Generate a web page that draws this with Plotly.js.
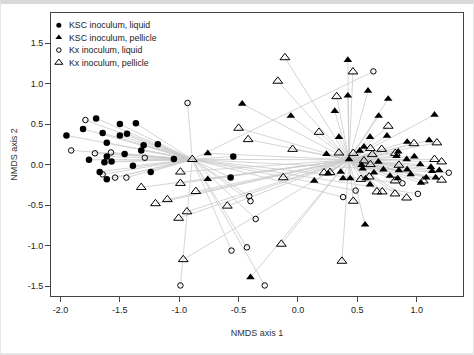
<!DOCTYPE html>
<html><head><meta charset="utf-8">
<script src="https://cdn.plot.ly/plotly-3.0.1.min.js"></script>
<style>
html,body{margin:0;padding:0;background:#fff}
#frame{position:absolute;left:0;top:0;width:474px;height:355px;box-sizing:border-box;border-top:4px solid #d9d9d9;border-bottom:2px solid #e6e6e6;border-left:1px solid #e6e6e6;border-right:1px solid #e6e6e6;pointer-events:none}
</style>
</head><body>
<div id="chart" style="position:absolute;left:0;top:0;width:474px;height:355px"></div>
<div id="frame"></div>
<script>
// ---- data ----
const seriesNames = ["KSC inoculum, liquid", "KSC inoculum, pellicle", "Kx inoculum, liquid", "Kx inoculum, pellicle"];

const kscLiquidX = [-1.70,-1.50,-1.365,-1.81,-1.95,-1.645,-1.50,-1.44,-1.61,-1.30,-1.18,-1.32,-1.76,-1.61,-1.46,-1.57,-1.63,-1.045,-1.39,-1.24,-1.67,-1.61,-0.545,-0.567];
const kscLiquidY = [0.57,0.50,0.51,0.44,0.36,0.39,0.36,0.38,0.27,0.24,0.25,0.175,0.06,0.10,0.13,0.04,0.03,0.07,-0.015,-0.09,-0.09,-0.18,0.10,-0.16];

const kscPellicleX = [-0.47,-0.06,-0.76,0.24,-0.76,0.137,0.255,-0.40,0.42,0.42,0.59,0.76,0.31,0.68,1.15,0.345,0.607,0.75,0.92,1.105,0.43,0.52,0.556,0.536,0.545,0.677,0.845,0.83,0.916,0.98,1.03,1.12,1.13,1.19,1.16,0.92,0.95,0.85,0.775,0.72,0.64,0.57,0.44,0.38,0.36,0.607,1.08,1.036,0.84,0.565];
const kscPellicleY = [0.75,0.60,0.14,0.13,-0.18,-0.20,-0.11,-1.39,1.29,0.85,0.91,0.81,0.66,0.60,0.615,0.34,0.34,0.355,0.28,0.30,0.065,0.17,0.22,-0.006,-0.05,0.035,0.16,0.105,0.065,0.10,0.002,-0.03,-0.08,-0.07,-0.16,-0.06,-0.12,-0.07,-0.14,-0.06,-0.10,-0.17,-0.17,-0.17,-0.09,-0.245,-0.16,-0.225,-0.17,-0.74];

const kxLiquidX = [-1.79,-0.93,-1.91,-1.71,-1.575,-1.29,-1.645,-1.54,-1.445,-0.41,-0.40,-0.356,-0.56,-0.43,-0.28,-0.99,0.635,1.27,0.88,1.01,0.486,0.38];
const kxLiquidY = [0.55,0.76,0.175,0.14,0.15,0.085,-0.12,-0.16,-0.16,-0.39,-0.45,-0.67,-1.06,-1.02,-1.49,-1.49,1.15,-0.10,-0.23,-0.36,-0.32,-0.40];

const kxPellicleX = [-0.89,-0.99,-0.99,-1.32,-0.86,-1.20,-1.10,-0.935,-1.005,-0.595,-0.966,-0.11,-0.17,-0.50,-0.42,-0.045,0.177,-0.124,0.22,-0.14,0.463,0.326,0.76,0.345,0.466,0.61,0.705,0.82,0.977,1.17,1.15,1.21,0.626,0.27,0.556,0.61,0.85,0.53,0.60,0.817,1.21,0.665,0.71,0.817,0.915,0.466,1.055,0.37];
const kxPellicleY = [0.065,-0.09,-0.23,-0.28,-0.33,-0.48,-0.43,-0.58,-0.66,-0.51,-1.17,1.32,1.03,0.45,0.31,0.19,0.40,-0.16,-0.10,-0.98,1.145,0.84,0.475,0.145,0.14,0.20,0.19,0.14,0.26,0.27,0.065,0.035,0.125,-0.095,0.047,0.002,-0.006,-0.18,-0.15,-0.20,-0.19,-0.335,-0.335,-0.36,-0.41,-0.45,-0.20,-1.19];

// spider centres (pellicle centre, liquid centre)
const centreX = [0.43, -0.89];
const centreY = [0.06, 0.065];

const xTickVals = [-2.0,-1.5,-1.0,-0.5,0.0,0.5,1.0];
const xTickText = ["-2.0","-1.5","-1.0","-0.5","0.0","0.5","1.0"];
const yTickVals = [-1.5,-1.0,-0.5,0.0,0.5,1.0,1.5];
const yTickText = ["-1.5","-1.0","-0.5","0.0","0.5","1.0","1.5"];

// ---- build ----
const groups = [
  {x:kscLiquidX, y:kscLiquidY, centre:1, marker:{symbol:'circle', size:6.5, color:'#000'}},
  {x:kscPellicleX, y:kscPellicleY, centre:0, marker:{symbol:'triangle-up', size:7.5, color:'#000'}},
  {x:kxLiquidX, y:kxLiquidY, centre:1, marker:{symbol:'circle-open', size:5.5, color:'#000', line:{width:1}}},
  {x:kxPellicleX, y:kxPellicleY, centre:0, marker:{symbol:'triangle-up-open', size:8.5, color:'#000', line:{width:1}}}
];

const segX = [], segY = [];
groups.forEach(g => {
  for (let i = 0; i < g.x.length; i++) {
    segX.push(g.x[i], centreX[g.centre], null);
    segY.push(g.y[i], centreY[g.centre], null);
  }
});

const FONT = '"Liberation Sans", Arial, sans-serif';
const traces = [{
  x: segX, y: segY, mode: 'lines', type: 'scatter',
  line: {color: '#cacaca', width: 0.8}, hoverinfo: 'skip', showlegend: false
}];
groups.forEach((g, k) => {
  traces.push({x: g.x, y: g.y, mode: 'markers', type: 'scatter', name: seriesNames[k], marker: g.marker, showlegend: false, cliponaxis: false});
});

// custom compact legend (glyphs on an overlay axis, labels as annotations)
const legGlyphX = 0.019, legTextX = 0.038;
const legRowY = [0.957, 0.913, 0.869, 0.825];
const legSizes = [5, 6, 4.5, 7];
const annotations = [];
groups.forEach((g, k) => {
  const m = Object.assign({}, g.marker, {size: legSizes[k]});
  traces.push({x: [legGlyphX], y: [legRowY[k]], xaxis: 'x2', yaxis: 'y2', mode: 'markers', type: 'scatter', marker: m, showlegend: false, hoverinfo: 'skip'});
  annotations.push({xref: 'paper', yref: 'paper', x: legTextX, y: legRowY[k], xanchor: 'left', yanchor: 'middle', text: seriesNames[k], showarrow: false, font: {family: FONT, size: 8.8, color: '#222'}});
});

const axisCommon = {
  showline: true, mirror: true, linecolor: '#444', linewidth: 1,
  ticks: 'outside', ticklen: 5, tickwidth: 1, tickcolor: '#444',
  showgrid: false, zeroline: false,
  tickfont: {family: FONT, size: 9, color: '#222'}
};

const layout = {
  width: 474, height: 355,
  margin: {l: 51, r: 11, t: 13, b: 59},
  paper_bgcolor: '#fff', plot_bgcolor: '#fff',
  font: {family: FONT, size: 9, color: '#333'},
  showlegend: false,
  xaxis: Object.assign({}, axisCommon, {
    range: [-2.08, 1.39], tickmode: 'array', tickvals: xTickVals, ticktext: xTickText,
    title: {text: 'NMDS axis 1', font: {family: FONT, size: 9, color: '#333'}, standoff: 15}
  }),
  yaxis: Object.assign({}, axisCommon, {
    range: [-1.62, 1.87], tickmode: 'array', tickvals: yTickVals, ticktext: yTickText,
    title: {text: 'NMDS axis 2', font: {family: FONT, size: 9, color: '#333'}, standoff: 8}
  }),
  xaxis2: {overlaying: 'x', anchor: 'y2', range: [0, 1], visible: false, fixedrange: true},
  yaxis2: {overlaying: 'y', anchor: 'x2', range: [0, 1], visible: false, fixedrange: true},
  annotations: annotations
};

Plotly.newPlot('chart', traces, layout, {staticPlot: true});
</script>
</body></html>
